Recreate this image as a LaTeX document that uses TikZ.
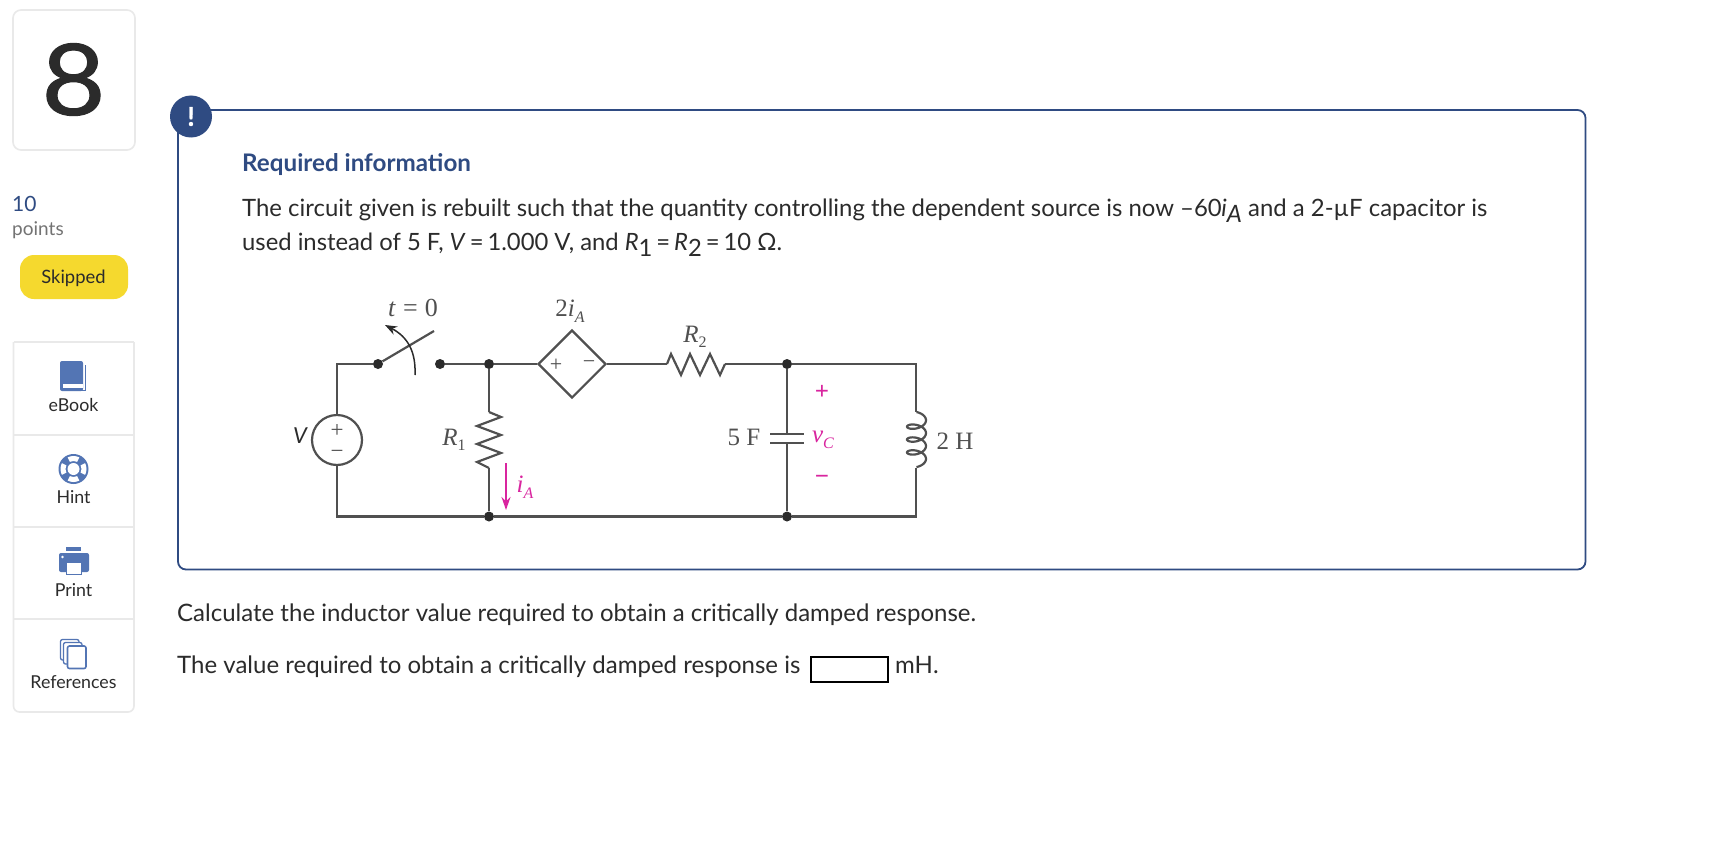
\documentclass[tikz,border=0pt]{standalone}
\usepackage{fontspec}
\setmainfont{Lato}
\newfontfamily\circfont{Liberation Serif}
\usetikzlibrary{shapes.geometric,arrows.meta}
\definecolor{framecol}{HTML}{2F4B82}
\definecolor{iconcol}{HTML}{5375B4}
\definecolor{inkcol}{HTML}{2B2B2B}
\definecolor{edgecol}{HTML}{E9E9E9}
\definecolor{wirecol}{HTML}{505050}
\definecolor{pinkcol}{HTML}{D9259F}
\definecolor{pillcol}{HTML}{F5D92E}
\newcommand{\lowtxt}[1]{\raisebox{-0.26em}{#1}}
\newcommand{\fsz}[1]{\fontsize{#1}{#1}\selectfont}
\begin{document}
\begin{tikzpicture}[x=1pt,y=-1pt,
  bodytext/.style={anchor=base west,inner sep=0pt,text=inkcol,font=\fsz{24}},
  sidetext/.style={inner sep=0pt,text=inkcol,font=\fsz{17.8}},
  wire/.style={draw=wirecol,line width=2.2pt},
  joint/.style={circle,fill=inkcol,inner sep=0pt,minimum size=10pt},
  circtext/.style={inner sep=0pt,text=wirecol,font=\circfont\fsz{25}},
  pinktext/.style={inner sep=0pt,text=pinkcol,font=\circfont\fsz{25}},
  pinksign/.style={inner sep=0pt,text=pinkcol,font=\circfont\bfseries\fsz{25}},
  edgeline/.style={draw=edgecol,line width=1.6pt}]
\useasboundingbox (0,0) rectangle (1736,848);
\fill[white] (0,0) rectangle (1736,848);
% question number
\draw[edgeline,rounded corners=8pt] (13,10) rectangle (135,150);
\node[inner sep=0pt,text=inkcol,font=\fsz{102}\addfontfeature{FakeBold=1}] (num) at (73.5,79.5) {\scalebox{1.08}[0.97]{8}};
\node[anchor=base west,inner sep=0pt,text=framecol,font=\fsz{21}] (pts) at (12,211) {10};
\node[anchor=base west,inner sep=0pt,text=black!55,font=\fsz{19}] (ptslabel) at (12,235.5) {points};
\node[fill=pillcol,rounded corners=14pt,minimum width=108pt,minimum height=44pt,inner sep=0pt] (skip) at (74,277) {};
\node[inner sep=0pt,text=inkcol,font=\fsz{18.4}] (skiptxt) at (73.5,278) {Skipped};
% side panel
\draw[edgeline,rounded corners=6pt] (13.5,342) -- (13.5,712) -- (134,712) -- (134,342);
\draw[edgeline] (13.5,342) -- (134,342) (13.5,435) -- (134,435) (13.5,527) -- (135,527) (13.5,619) -- (135,619);
\node[sidetext] (bk) at (73.5,405) {eBook};
\node[sidetext] (ht) at (73.5,497) {Hint};
\node[sidetext] (pr) at (73.5,590) {Print};
\node[sidetext] (rf) at (73.5,682) {References};
% book
\fill[iconcol,rounded corners=2pt] (60,361) rectangle (83,391);
\fill[white] (63,383.5) rectangle (83,388);
\draw[iconcol,line width=1.5pt] (85.5,365) -- (85.5,390.5) -- (66,390.5);
% lifebuoy
\fill[iconcol] (73.5,469) circle (15);
\fill[white] (73.5,469) circle (6);
\foreach \ang in {0,90,180,270}
  \fill[white] (\ang-27:13) ++(73.5,469) arc (\ang-27:\ang+27:13) -- ++(\ang+27:-5) arc (\ang+27:\ang-27:8) -- cycle;
% printer
\fill[iconcol] (66,547) rectangle (81,551);
\fill[iconcol,rounded corners=2pt] (59,553) rectangle (89,572);
\draw[iconcol,line width=1.2pt,fill=white] (66.5,562.5) rectangle (81.5,574.5);
\fill[white] (62.5,557) circle (1.4);
% pages
\draw[iconcol,line width=1.3pt,fill=white,rounded corners=2pt] (60.5,639.5) rectangle (79,660);
\draw[iconcol,line width=1.3pt,fill=white,rounded corners=2pt] (63.5,642.5) rectangle (82,664);
\draw[iconcol,line width=1.6pt,fill=white,rounded corners=2pt] (67.5,646) rectangle (86,668.5);
% information frame
\draw[framecol,line width=1.8pt,rounded corners=8pt] (178,110) rectangle (1585.5,569.5);
\node[circle,fill=framecol,minimum size=42pt,inner sep=0pt,text=white,font=\bfseries\fsz{26}\addfontfeature{FakeBold=1}] (warn) at (191,116.5) {!};
\node[anchor=base west,inner sep=0pt,text=framecol,font=\bfseries\fsz{24.2}] (head) at (242,171) {Required information};
\node[bodytext,font=\fsz{23.9}] (lineA) at (242,216) {The circuit given is rebuilt such that the quantity controlling the dependent source is now –60\textit{i}\lowtxt{\textit{A}} and a 2-µF capacitor is};
\node[bodytext,font=\fsz{23.8}] (lineB) at (242,250.5) {used instead of 5 F, \textit{V}\,=\,1.000 V, and \textit{R}\lowtxt{1}\,=\,\textit{R}\lowtxt{2}\,=\,10 Ω.};
\node[bodytext] (lineC) at (177,621) {Calculate the inductor value required to obtain a critically damped response.};
\node[bodytext] (lineD) at (177,673) {The value required to obtain a critically damped response is};
\node[draw=black,line width=2pt,minimum width=77pt,minimum height=25pt,inner sep=0pt] (ansbox) at (849.5,669.5) {};
\node[bodytext] (unit) at (895,673) {mH.};
% circuit
\coordinate (cnrTL) at (337,364);
\coordinate (cnrBL) at (337,516.5);
\coordinate (cnrTR) at (916,364);
\coordinate (cnrBR) at (916,516.5);
\coordinate (coilT) at (916,412);
\coordinate (coilB) at (916,468);
\coordinate (resAT) at (489,412);
\coordinate (resAB) at (489,468);
\coordinate (resBL) at (667,364);
\coordinate (resBR) at (725,364);
\coordinate (capT) at (787,434);
\coordinate (capB) at (787,443);
\node[joint] (swA) at (378,364) {};
\node[joint] (swB) at (440,364) {};
\node[joint] (jnA) at (489,364) {};
\node[joint] (jnB) at (489,516.5) {};
\node[joint] (jnC) at (787,364) {};
\node[joint] (jnD) at (787,516.5) {};
\node[circle,draw=wirecol,line width=2.2pt,minimum size=50pt,inner sep=0pt] (src) at (337,440) {};
\node[diamond,draw=wirecol,line width=2.2pt,minimum size=68pt,inner sep=0pt] (dep) at (572,364) {};
\draw[wire] (src) -- (cnrTL) -- (swA);
\draw[wire] (src) -- (cnrBL) -- (jnB);
\draw[wire] (swB) -- (jnA) -- (dep);
\draw[wire] (dep) -- (resBL);
\draw[wire] (resBR) -- (jnC) -- (cnrTR) -- (coilT);
\draw[wire] (coilB) -- (cnrBR) -- (jnD) -- (jnB);
\draw[wire] (jnA) -- (resAT);
\draw[wire] (resAB) -- (jnB);
\draw[wire] (jnC) -- (capT);
\draw[wire] (capB) -- (jnD);
% switch
\draw[wire] (swA) -- (434,331);
\draw[draw=inkcol,line width=1.5pt,-{Stealth[length=12pt,width=9pt]}] (415,375) .. controls (416,352) and (408,337) .. (385,325);
% resistors
\draw[wire,line join=miter] (resAT) -- (501,417) -- (477,426) -- (501,435) -- (477,444) -- (501,453) -- (477,462) -- (resAB);
\draw[wire,line join=miter] (resBL) -- (671,354) -- (681,375) -- (690,354) -- (700,375) -- (710,354) -- (720,375) -- (resBR);
% capacitor
\draw[wire] (770,434) -- (804,434);
\draw[wire] (770,443) -- (804,443);
% inductor
\draw[wire] plot[smooth,domain=0:1260,samples=90] ({916.5+9.5*sin(\x)},{412+2.05*rad(\x)+5-5*cos(\x)});
% signs
\node[circtext,font=\circfont\fsz{23}] (srcP) at (337,431) {+};
\node[circtext,font=\circfont\fsz{23}] (srcM) at (337,454) {−};
\node[circtext,font=\circfont\fsz{22}] (depP) at (556,365) {+};
\node[circtext,font=\circfont\fsz{22}] (depM) at (589,365) {−};
% circuit labels
\node[inner sep=0pt,text=inkcol,font=\fsz{22}\itshape] (vlab) at (300,436) {V};
\node[circtext,font=\circfont\fsz{26}] (tlab) at (413,308) {\textit{t}\;=\;0};
\node[circtext] (ctl) at (570,311) {2\textit{i}\raisebox{-0.25em}{\fsz{16}\textit{A}}};
\node[circtext] (ronelab) at (454,440) {\textit{R}\raisebox{-0.2em}{\fsz{16}1}};
\node[circtext] (rtwolab) at (695,337) {\textit{R}\raisebox{-0.2em}{\fsz{16}2}};
\node[circtext] (caplab) at (744,437) {5 F};
\node[circtext] (indlab) at (955,441) {2 H};
\draw[draw=pinkcol,line width=1.7pt,-{Stealth[length=13pt,width=9pt]}] (506,463) -- (506,510);
\node[pinktext] (ialab) at (525,487) {\textit{i}\raisebox{-0.25em}{\fsz{16}\textit{A}}};
\node[pinksign] (vp) at (822,392) {+};
\node[pinktext] (vclab) at (823,440) {\textit{v}\raisebox{-0.25em}{\fsz{16}\textit{C}}};
\node[pinksign] (vm) at (822,480) {−};
\end{tikzpicture}
\end{document}
